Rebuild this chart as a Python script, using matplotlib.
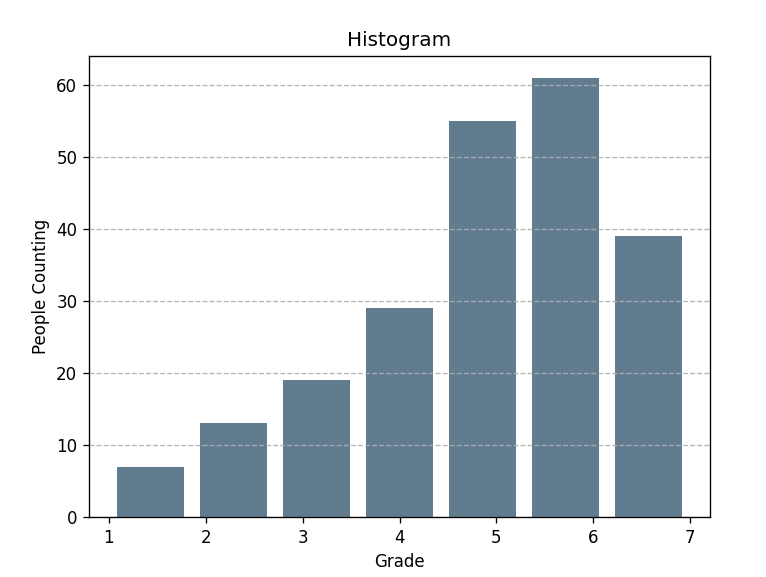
import numpy as np
import matplotlib
matplotlib.use("Agg")
import matplotlib.pyplot as plt

# grade bins and counts
bin_edges = [1, 1 + 6 / 7, 1 + 12 / 7, 1 + 18 / 7, 1 + 24 / 7, 1 + 30 / 7, 1 + 36 / 7, 7]
counts = [7, 13, 19, 29, 55, 61, 39]

centers = [(bin_edges[i] + bin_edges[i + 1]) / 2 for i in range(len(counts))]

fig = plt.figure(figsize=(766 / 120, 577 / 120), dpi=120)
ax = fig.add_axes([89 / 766, 1 - 517 / 577, (710 - 89) / 766, (517 - 56) / 577])

ax.hist(centers, bins=bin_edges, weights=counts, color="#607c8e", rwidth=0.8)
ax.grid(axis="y", linestyle="--", color="#b0b0b0", alpha=0.9)
ax.set_xticks([1, 2, 3, 4, 5, 6, 7])
ax.set_title("Histogram", fontsize=12)
ax.set_xlabel("Grade")
ax.set_ylabel("People Counting")

fig.savefig("out.png", dpi=120)
